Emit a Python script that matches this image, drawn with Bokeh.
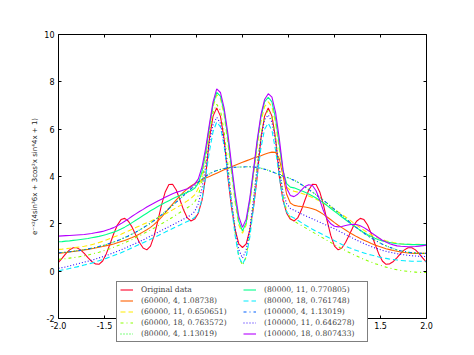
from bokeh.plotting import figure
from bokeh.models import (Range1d, FixedTicker, LinearAxis, Legend, LegendItem,
                          CustomJSTickFormatter)
from bokeh.embed import file_html
from bokeh.resources import INLINE

# ---------------- data ----------------
x = [-2.00, -1.96, -1.92, -1.88, -1.84, -1.80, -1.76, -1.72, -1.68, -1.64,
     -1.60, -1.56, -1.52, -1.48, -1.44, -1.40, -1.36, -1.32, -1.28, -1.24,
     -1.20, -1.16, -1.12, -1.08, -1.04, -1.00, -0.96, -0.92, -0.88, -0.84,
     -0.80, -0.76, -0.72, -0.68, -0.64, -0.60, -0.56, -0.52, -0.48, -0.44,
     -0.40, -0.36, -0.32, -0.28, -0.24, -0.20, -0.16, -0.12, -0.08, -0.04,
     0.00, 0.04, 0.08, 0.12, 0.16, 0.20, 0.24, 0.28, 0.32, 0.36,
     0.40, 0.44, 0.48, 0.52, 0.56, 0.60, 0.64, 0.68, 0.72, 0.76,
     0.80, 0.84, 0.88, 0.92, 0.96, 1.00, 1.04, 1.08, 1.12, 1.16,
     1.20, 1.24, 1.28, 1.32, 1.36, 1.40, 1.44, 1.48, 1.52, 1.56,
     1.60, 1.64, 1.68, 1.72, 1.76, 1.80, 1.84, 1.88, 1.92, 1.96, 2.00]

original = [0.37, 0.55, 0.74, 0.90, 0.99, 0.99, 0.90, 0.75, 0.57, 0.41,
            0.31, 0.29, 0.43, 0.74, 1.15, 1.58, 1.95, 2.18, 2.23, 2.11,
            1.86, 1.53, 1.21, 0.98, 0.90, 1.06, 1.50, 2.13, 2.80, 3.35,
            3.66, 3.67, 3.43, 3.02, 2.58, 2.25, 2.12, 2.20, 2.45, 3.00,
            4.00, 5.60, 6.55, 6.90, 6.55, 5.60, 4.00, 2.70, 1.75, 1.15, 1.00,
            1.15, 1.75, 2.70, 4.00, 5.60, 6.55, 6.90, 6.55, 5.60, 4.00,
            3.00, 2.45, 2.20, 2.12, 2.25, 2.58, 3.02, 3.43, 3.67, 3.66,
            3.35, 2.80, 2.13, 1.50, 1.06, 0.90, 0.98, 1.21, 1.53, 1.86,
            2.11, 2.23, 2.18, 1.95, 1.58, 1.15, 0.74, 0.43, 0.29, 0.31,
            0.41, 0.57, 0.75, 0.90, 0.99, 0.99, 0.90, 0.74, 0.55, 0.37]

fit_60000_4 = [0.75, 0.77, 0.79, 0.81, 0.83, 0.85, 0.87, 0.90, 0.92, 0.95,
               0.98, 1.01, 1.04, 1.08, 1.11, 1.15, 1.20, 1.25, 1.30, 1.36,
               1.42, 1.49, 1.57, 1.66, 1.75, 1.85, 1.98, 2.12, 2.28, 2.46,
               2.65, 2.83, 3.01, 3.18, 3.34, 3.48, 3.60, 3.70, 3.78, 3.86,
               3.94, 4.00, 4.07, 4.14, 4.21, 4.28, 4.35, 4.41, 4.48, 4.54, 4.60,
               4.66, 4.72, 4.78, 4.83, 4.88, 4.94, 4.99, 5.03, 5.02, 4.75,
               4.05, 3.25, 2.88, 2.78, 2.75, 2.73, 2.71, 2.68, 2.64, 2.58,
               2.50, 2.40, 2.29, 2.17, 2.05, 1.94, 1.84, 1.74, 1.64, 1.55,
               1.46, 1.38, 1.31, 1.24, 1.17, 1.11, 1.05, 1.00, 0.95, 0.91,
               0.87, 0.84, 0.81, 0.79, 0.77, 0.76, 0.75, 0.75, 0.75, 0.76]

fit_60000_11 = [0.92, 0.93, 0.95, 0.97, 0.99, 1.01, 1.03, 1.05, 1.08, 1.12,
                1.16, 1.21, 1.26, 1.32, 1.38, 1.44, 1.50, 1.56, 1.63, 1.70,
                1.77, 1.84, 1.91, 1.98, 2.05, 2.11, 2.18, 2.26, 2.34, 2.42,
                2.50, 2.59, 2.68, 2.77, 2.87, 2.97, 3.08, 3.22, 3.50, 4.05,
                4.95, 6.00, 6.95, 7.45, 7.30, 6.60, 5.45, 4.15, 2.90, 1.95, 1.60,
                1.95, 2.85, 4.05, 5.25, 6.30, 6.95, 7.15, 6.95, 6.25, 5.15,
                4.05, 3.55, 3.42, 3.38, 3.34, 3.29, 3.24, 3.18, 3.11, 3.04,
                2.96, 2.88, 2.79, 2.70, 2.60, 2.50, 2.40, 2.29, 2.18, 2.06,
                1.95, 1.84, 1.73, 1.63, 1.54, 1.46, 1.39, 1.33, 1.28, 1.24,
                1.21, 1.18, 1.16, 1.15, 1.14, 1.13, 1.13, 1.13, 1.12, 1.12]

fit_60000_18 = [0.50, 0.51, 0.53, 0.55, 0.57, 0.59, 0.62, 0.65, 0.68, 0.72,
                0.76, 0.80, 0.85, 0.90, 0.95, 1.01, 1.07, 1.13, 1.20, 1.27,
                1.34, 1.42, 1.50, 1.58, 1.66, 1.74, 1.82, 1.91, 2.00, 2.09,
                2.18, 2.28, 2.38, 2.48, 2.58, 2.68, 2.78, 2.92, 3.20, 3.80,
                4.75, 5.85, 6.70, 7.05, 6.80, 5.90, 4.55, 3.05, 1.65, 0.60, 0.25,
                0.60, 1.60, 3.00, 4.45, 5.75, 6.55, 6.80, 6.50, 5.60, 4.35,
                3.20, 2.55, 2.25, 2.12, 2.02, 1.93, 1.84, 1.75, 1.66, 1.57,
                1.48, 1.39, 1.30, 1.21, 1.12, 1.03, 0.95, 0.87, 0.79, 0.71,
                0.64, 0.57, 0.50, 0.44, 0.38, 0.32, 0.27, 0.22, 0.17, 0.13,
                0.09, 0.06, 0.03, 0.01, -0.01, -0.03, -0.04, -0.05, -0.05, -0.05]

fit_100000_4 = [0.78, 0.79, 0.80, 0.82, 0.84, 0.86, 0.88, 0.91, 0.94, 0.97,
                1.00, 1.04, 1.08, 1.13, 1.18, 1.23, 1.29, 1.35, 1.42, 1.49,
                1.57, 1.65, 1.74, 1.83, 1.93, 2.03, 2.14, 2.26, 2.38, 2.51,
                2.64, 2.78, 2.92, 3.06, 3.20, 3.34, 3.48, 3.62, 3.76, 3.89,
                4.01, 4.11, 4.19, 4.25, 4.30, 4.34, 4.36, 4.38, 4.39, 4.40, 4.40,
                4.41, 4.41, 4.40, 4.38, 4.35, 4.31, 4.26, 4.20, 4.14, 4.08,
                4.02, 3.97, 3.91, 3.84, 3.76, 3.66, 3.56, 3.45, 3.34, 3.23,
                3.11, 2.99, 2.87, 2.74, 2.61, 2.48, 2.35, 2.22, 2.09, 1.96,
                1.84, 1.72, 1.61, 1.50, 1.40, 1.31, 1.22, 1.14, 1.07, 1.01,
                0.95, 0.90, 0.86, 0.83, 0.80, 0.78, 0.77, 0.76, 0.75, 0.75]

# same error as the (100000, 4) fit: the two curves coincide
fit_80000_4 = [0.78, 0.79, 0.80, 0.82, 0.84, 0.86, 0.88, 0.91, 0.94, 0.97,
               1.00, 1.04, 1.08, 1.13, 1.18, 1.23, 1.29, 1.35, 1.42, 1.49,
               1.57, 1.65, 1.74, 1.83, 1.93, 2.03, 2.14, 2.26, 2.38, 2.51,
               2.64, 2.78, 2.92, 3.06, 3.20, 3.34, 3.48, 3.62, 3.76, 3.89,
               4.01, 4.11, 4.19, 4.25, 4.30, 4.34, 4.36, 4.38, 4.39, 4.40, 4.40,
               4.41, 4.41, 4.40, 4.38, 4.35, 4.31, 4.26, 4.20, 4.14, 4.08,
               4.02, 3.97, 3.91, 3.84, 3.76, 3.66, 3.56, 3.45, 3.34, 3.23,
               3.11, 2.99, 2.87, 2.74, 2.61, 2.48, 2.35, 2.22, 2.09, 1.96,
               1.84, 1.72, 1.61, 1.50, 1.40, 1.31, 1.22, 1.14, 1.07, 1.01,
               0.95, 0.90, 0.86, 0.83, 0.80, 0.78, 0.77, 0.76, 0.75, 0.75]

fit_80000_11 = [1.24, 1.25, 1.27, 1.28, 1.30, 1.32, 1.34, 1.36, 1.38, 1.41,
                1.44, 1.47, 1.51, 1.55, 1.60, 1.65, 1.71, 1.78, 1.86, 1.95,
                2.05, 2.15, 2.25, 2.35, 2.45, 2.55, 2.64, 2.73, 2.82, 2.90,
                2.98, 3.06, 3.13, 3.20, 3.27, 3.33, 3.40, 3.50, 3.72, 4.20,
                5.05, 6.10, 7.05, 7.55, 7.40, 6.75, 5.65, 4.35, 3.10, 2.10, 1.70,
                2.05, 3.00, 4.20, 5.45, 6.50, 7.15, 7.35, 7.15, 6.45, 5.35,
                4.25, 3.70, 3.55, 3.52, 3.46, 3.40, 3.33, 3.26, 3.18, 3.09,
                2.99, 2.88, 2.77, 2.65, 2.53, 2.41, 2.29, 2.17, 2.05, 1.94,
                1.83, 1.73, 1.63, 1.54, 1.46, 1.39, 1.33, 1.28, 1.24, 1.21,
                1.18, 1.16, 1.15, 1.14, 1.13, 1.12, 1.12, 1.12, 1.12, 1.12]

fit_80000_18 = [0.02, 0.05, 0.08, 0.11, 0.15, 0.18, 0.22, 0.26, 0.30, 0.34,
                0.39, 0.44, 0.49, 0.54, 0.60, 0.66, 0.72, 0.78, 0.85, 0.92,
                0.99, 1.06, 1.13, 1.20, 1.27, 1.35, 1.42, 1.50, 1.57, 1.65,
                1.72, 1.80, 1.88, 1.95, 2.03, 2.10, 2.17, 2.27, 2.50, 3.05,
                4.00, 5.05, 5.90, 6.30, 6.10, 5.30, 4.10, 2.75, 1.50, 0.60, 0.30,
                0.60, 1.45, 2.70, 4.00, 5.20, 6.00, 6.25, 5.95, 5.10, 4.00,
                3.00, 2.50, 2.33, 2.25, 2.15, 2.05, 1.95, 1.86, 1.77, 1.69,
                1.61, 1.53, 1.45, 1.37, 1.29, 1.21, 1.13, 1.06, 0.99, 0.93,
                0.87, 0.82, 0.77, 0.72, 0.68, 0.64, 0.60, 0.57, 0.54, 0.51,
                0.49, 0.47, 0.45, 0.44, 0.43, 0.42, 0.42, 0.42, 0.42, 0.42]

fit_100000_11 = [0.12, 0.15, 0.18, 0.22, 0.26, 0.30, 0.34, 0.38, 0.42, 0.46,
                 0.51, 0.56, 0.61, 0.66, 0.72, 0.78, 0.84, 0.90, 0.97, 1.04,
                 1.11, 1.18, 1.25, 1.32, 1.40, 1.48, 1.56, 1.64, 1.72, 1.80,
                 1.88, 1.96, 2.04, 2.12, 2.20, 2.28, 2.38, 2.52, 2.85, 3.50,
                 4.45, 5.45, 6.20, 6.50, 6.25, 5.45, 4.30, 3.00, 1.80, 0.90, 0.55,
                 0.90, 1.80, 3.05, 4.40, 5.60, 6.40, 6.60, 6.30, 5.45, 4.35,
                 3.35, 2.85, 2.65, 2.58, 2.50, 2.42, 2.35, 2.28, 2.21, 2.14,
                 2.07, 2.00, 1.93, 1.86, 1.79, 1.71, 1.63, 1.55, 1.47, 1.39,
                 1.31, 1.24, 1.17, 1.10, 1.04, 0.98, 0.93, 0.88, 0.84, 0.80,
                 0.77, 0.74, 0.71, 0.69, 0.67, 0.65, 0.64, 0.63, 0.62, 0.62]

fit_100000_18 = [1.48, 1.49, 1.50, 1.51, 1.52, 1.53, 1.54, 1.55, 1.57, 1.59,
                 1.62, 1.65, 1.68, 1.73, 1.78, 1.84, 1.92, 2.01, 2.11, 2.21,
                 2.32, 2.42, 2.52, 2.61, 2.71, 2.80, 2.88, 2.96, 3.04, 3.12,
                 3.20, 3.27, 3.33, 3.38, 3.43, 3.48, 3.56, 3.68, 3.90, 4.40,
                 5.20, 6.20, 7.15, 7.70, 7.55, 6.90, 5.85, 4.55, 3.30, 2.30, 1.85,
                 2.20, 3.10, 4.30, 5.55, 6.60, 7.25, 7.50, 7.35, 6.70, 5.60,
                 4.30, 3.50, 3.20, 3.15, 3.25, 3.42, 3.58, 3.65, 3.62, 3.40,
                 3.00, 2.55, 2.20, 2.00, 1.90, 1.87, 1.89, 1.93, 1.96, 1.98,
                 1.97, 1.92, 1.84, 1.74, 1.63, 1.52, 1.41, 1.31, 1.23, 1.16,
                 1.11, 1.07, 1.05, 1.04, 1.03, 1.03, 1.04, 1.06, 1.08, 1.10]

labels = ["Original data",
          "(60000, 4, 1.08738)", "(60000, 11, 0.650651)", "(60000, 18, 0.763572)",
          "(80000, 4, 1.13019)", "(80000, 11, 0.770805)", "(80000, 18, 0.761748)",
          "(100000, 4, 1.13019)", "(100000, 11, 0.646278)", "(100000, 18, 0.807433)"]
series = [original, fit_60000_4, fit_60000_11, fit_60000_18,
          fit_80000_4, fit_80000_11, fit_80000_18,
          fit_100000_4, fit_100000_11, fit_100000_18]
x_ticks = [-2.0, -1.5, -1.0, -0.5, 0.0, 0.5, 1.0, 1.5, 2.0]
y_ticks = [-2, 0, 2, 4, 6, 8, 10]
x_min, x_max = -2.0, 2.0
y_min, y_max = -2.0, 10.0

# ---------------- layout & styles ----------------
W, H = 466, 347
AX_LEFT, AX_RIGHT = 58, 426      # pixel columns of x = -2 and x = 2
AX_TOP, AX_BOTTOM = 34, 318      # pixel rows of y = 10 and y = -2
FRAME_LEFT, FRAME_RIGHT = 18, 456
FRAME_TOP = 20
LEGEND_BOTTOM = 342              # legend hangs below the axes box
px_x = (AX_RIGHT - AX_LEFT) / (x_max - x_min)
px_y = (AX_BOTTOM - AX_TOP) / (y_max - y_min)
x_start = x_min - (AX_LEFT - FRAME_LEFT) / px_x
x_end = x_max + (FRAME_RIGHT - AX_RIGHT) / px_x
y_start = y_max - (LEGEND_BOTTOM - AX_TOP) / px_y
y_end = y_max + (AX_TOP - FRAME_TOP) / px_y

colors = ["#ff0029", "#ff6100", "#ffeb00", "#8aff00", "#00ff00",
          "#00ff8a", "#00ebff", "#0061ff", "#2a00ff", "#b500ff"]
dashes = ["solid", "solid", "5 3", "3 3 1 3", "1 2",
          "solid", "5 3", "3 3 1 3", "1 2", "solid"]

p = figure(width=W, height=H, x_range=Range1d(x_start, x_end),
           y_range=Range1d(y_start, y_end),
           x_axis_location=None, y_axis_location=None,
           output_backend="svg", toolbar_location=None,
           min_border_left=FRAME_LEFT, min_border_right=W - FRAME_RIGHT,
           min_border_top=FRAME_TOP, min_border_bottom=H - LEGEND_BOTTOM)
p.background_fill_color = "white"
p.border_fill_color = "white"
p.outline_line_color = None
p.grid.visible = False

items = []
for lab, ys, c, d in zip(labels, series, colors, dashes):
    r = p.line(x, ys, line_color=c, line_width=1.1, line_dash=d)
    items.append(LegendItem(label=lab, renderers=[r]))

def style_axis(ax):
    ax.major_tick_in = 3
    ax.major_tick_out = 0
    ax.minor_tick_in = 0
    ax.minor_tick_out = 0
    ax.axis_line_color = "black"
    ax.axis_line_width = 1
    ax.major_tick_line_color = "black"
    ax.major_label_text_font = "DejaVu Sans"
    ax.major_label_text_font_size = "8px"
    ax.major_label_text_color = "black"

empty = CustomJSTickFormatter(code="return ''")

bottom = LinearAxis(ticker=FixedTicker(ticks=x_ticks), fixed_location=y_min,
                    bounds=(x_min, x_max),
                    major_label_overrides={t: f"{t:.1f}" for t in x_ticks})
style_axis(bottom)
bottom.major_label_standoff = 3
p.add_layout(bottom, "below")

left = LinearAxis(ticker=FixedTicker(ticks=y_ticks), fixed_location=x_min,
                  bounds=(y_min, y_max),
                  major_label_overrides={t: f"{t}" for t in y_ticks})
style_axis(left)
left.major_label_standoff = 4
left.axis_label = "e\u207b\u02e3\u00b2(4sin\u00b36x + 3cos\u00b2x sin\u20744x + 1)"
left.axis_label_text_font = "DejaVu Sans"
left.axis_label_text_font_size = "7px"
left.axis_label_text_font_style = "normal"
left.axis_label_text_color = "#222222"
left.axis_label_standoff = 2
p.add_layout(left, "left")

top = LinearAxis(ticker=FixedTicker(ticks=x_ticks), formatter=empty,
                 fixed_location=y_max, bounds=(x_min, x_max))
right = LinearAxis(ticker=FixedTicker(ticks=y_ticks), formatter=empty,
                   fixed_location=x_max, bounds=(y_min, y_max))
style_axis(top)
style_axis(right)
p.add_layout(top, "above")
p.add_layout(right, "right")

legend = Legend(items=items, location=(116 - FRAME_LEFT, 0), ncols=2,
                label_text_font="DejaVu Serif", label_text_font_size="7.6px",
                label_height=9, glyph_height=9, glyph_width=13, label_standoff=8,
                label_width=100, spacing=2, padding=3, margin=0,
                border_line_color="black", border_line_width=1,
                background_fill_color="white", background_fill_alpha=1.0)
p.add_layout(legend)

open("out.html", "w").write(file_html(p, INLINE))
